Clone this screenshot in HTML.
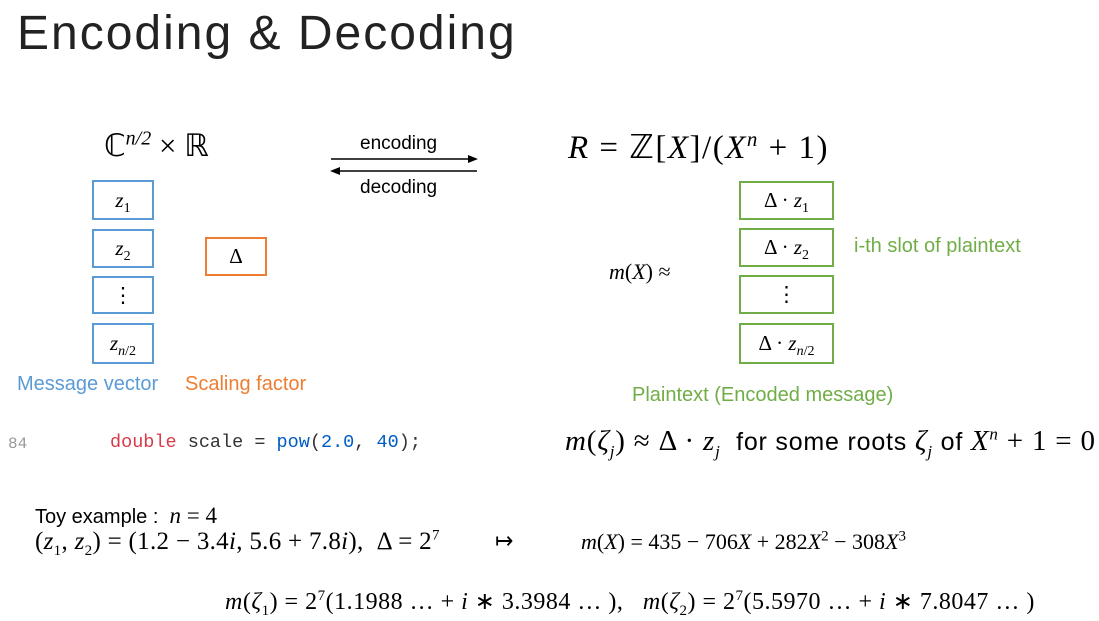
<!DOCTYPE html><html><head><style>
body{margin:0;width:1099px;height:621px;background:#fff;position:relative;overflow:hidden;font-family:"Liberation Sans",sans-serif;color:#000}
.a{position:absolute;white-space:nowrap}
.m{font-family:"Liberation Serif",serif}
.i{font-style:italic}
.bx{position:absolute;border:2px solid;box-sizing:border-box;display:flex;align-items:center;justify-content:center;font-family:"Liberation Serif",serif;font-size:21px}
.b{border-color:#5B9BD5}.g{border-color:#70AD47}
sub,sup{line-height:0}
</style></head><body>
<div class="a" style="left:17px;top:6px;font-size:48px;letter-spacing:2px;color:#222">Encoding &amp; Decoding</div>
<div class="a m" style="left:104px;top:128px;font-size:31px">ℂ<sup style="font-size:20px" class="i">n/2</sup> × ℝ</div>
<div class="a" style="left:360px;top:133px;font-size:19px">encoding</div>
<div class="a" style="left:360px;top:177px;font-size:19px">decoding</div>
<svg class="a" style="left:0;top:0" width="1099" height="621">
<line x1="331" y1="159" x2="470" y2="159" stroke="#000" stroke-width="1.5"/><polygon points="478,159 468,155 468,163" fill="#000"/>
<line x1="338" y1="171" x2="477" y2="171" stroke="#000" stroke-width="1.5"/><polygon points="330,171 340,167 340,175" fill="#000"/>
</svg>
<div class="a m" style="left:568px;top:127px;font-size:33px;letter-spacing:1.5px"><i>R</i> = ℤ[<i>X</i>]/(<i>X</i><sup style="font-size:21px"><i>n</i></sup> + 1)</div>
<div class="bx b" style="left:92px;top:180px;width:62px;height:40px"><span><i>z</i><sub style="font-size:14px">1</sub></span></div>
<div class="bx b" style="left:92px;top:229px;width:62px;height:39px"><span><i>z</i><sub style="font-size:14px">2</sub></span></div>
<div class="bx b" style="left:92px;top:276px;width:62px;height:38px">⋮</div>
<div class="bx b" style="left:92px;top:323px;width:62px;height:41px"><span><i>z</i><sub style="font-size:14px"><i>n</i>/2</sub></span></div>
<div class="bx" style="border-color:#ED7D31;left:205px;top:237px;width:62px;height:39px">Δ</div>
<div class="a" style="left:17px;top:373px;font-size:20px;color:#5B9BD5">Message vector</div>
<div class="a" style="left:185px;top:373px;font-size:20px;color:#ED7D31">Scaling factor</div>
<div class="bx g" style="left:739px;top:181px;width:95px;height:39px"><span>Δ · <i>z</i><sub style="font-size:14px">1</sub></span></div>
<div class="bx g" style="left:739px;top:228px;width:95px;height:39px"><span>Δ · <i>z</i><sub style="font-size:14px">2</sub></span></div>
<div class="bx g" style="left:739px;top:275px;width:95px;height:39px">⋮</div>
<div class="bx g" style="left:739px;top:323px;width:95px;height:41px"><span>Δ · <i>z</i><sub style="font-size:14px"><i>n</i>/2</sub></span></div>
<div class="a m" style="left:609px;top:259px;font-size:22px"><i>m</i>(<i>X</i>) ≈</div>
<div class="a" style="left:854px;top:235px;font-size:20px;color:#70AD47">i-th slot of plaintext</div>
<div class="a" style="left:632px;top:384px;font-size:20px;color:#70AD47">Plaintext (Encoded message)</div>
<div class="a" style="left:8px;top:435px;font-family:'Liberation Mono',monospace;font-size:16px;color:#999">84</div>
<div class="a" style="left:110px;top:432px;font-family:'Liberation Mono',monospace;font-size:18.5px;color:#333"><span style="color:#D73A49">double</span> scale = <span style="color:#005CC5">pow</span>(<span style="color:#005CC5">2.0</span>, <span style="color:#005CC5">40</span>);</div>
<div class="a" style="left:565px;top:425px;font-size:25px;letter-spacing:0.8px"><span class="m" style="font-size:29px"><i>m</i>(<i>ζ<sub style="font-size:17px">j</sub></i>) ≈ Δ · <i>z<sub style="font-size:17px">j</sub></i></span>&nbsp; for some roots <span class="m" style="font-size:29px"><i>ζ<sub style="font-size:17px">j</sub></i></span> of <span class="m" style="font-size:29px"><i>X</i><sup style="font-size:17px"><i>n</i></sup> + 1 = 0</span></div>
<div class="a" style="left:35px;top:503px;font-size:20px">Toy example :&nbsp; <span class="m" style="font-size:23px"><i>n</i> = 4</span></div>
<div class="a m" style="left:35px;top:528px;font-size:25px;letter-spacing:0.3px">(<i>z</i><sub style="font-size:15px">1</sub>, <i>z</i><sub style="font-size:15px">2</sub>) = (1.2 − 3.4<i>i</i>, 5.6 + 7.8<i>i</i>),&nbsp; Δ = 2<sup style="font-size:15px">7</sup></div>
<div class="a m" style="left:495px;top:528px;font-size:22px">↦</div>
<div class="a m" style="left:581px;top:529px;font-size:22px"><i>m</i>(<i>X</i>) = 435 − 706<i>X</i> + 282<i>X</i><sup style="font-size:15px">2</sup> − 308<i>X</i><sup style="font-size:15px">3</sup></div>
<div class="a m" style="left:225px;top:587px;font-size:24px;letter-spacing:0.5px"><i>m</i>(<i>ζ</i><sub style="font-size:15px">1</sub>) = 2<sup style="font-size:15px">7</sup>(1.1988 … + <i>i</i> ∗ 3.3984 … ),&nbsp;&nbsp; <i>m</i>(<i>ζ</i><sub style="font-size:15px">2</sub>) = 2<sup style="font-size:15px">7</sup>(5.5970 … + <i>i</i> ∗ 7.8047 … )</div>
</body></html>
